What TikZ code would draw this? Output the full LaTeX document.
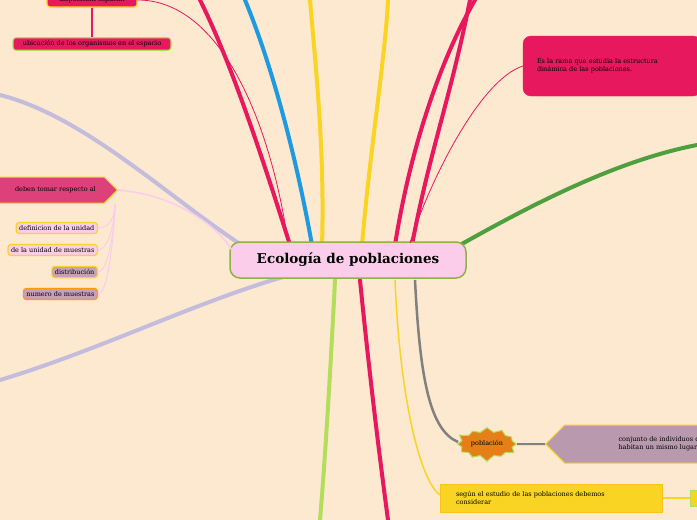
\documentclass[tikz,border=0pt]{standalone}
\usepackage{fontspec}
\setmainfont{DejaVu Serif}
\usetikzlibrary{shapes.geometric,shapes.symbols,shapes.arrows}
\definecolor{bg}{HTML}{FDE8D0}
\definecolor{crim}{HTML}{E8185E}
\definecolor{yel}{HTML}{F9D423}
\definecolor{lav}{HTML}{C3BCDD}
\definecolor{blu}{HTML}{1E9BE0}
\definecolor{grn}{HTML}{4E9F3D}
\definecolor{lgrn}{HTML}{B4DD5C}
\definecolor{pnk}{HTML}{FBCDEB}
\definecolor{mauve}{HTML}{C8A0B8}
\tikzset{
 br/.style={line width=4pt,line cap=round},
 ft/.style={font=\fontsize{6.5}{8}\selectfont},
 lbl/.style={ft,rounded corners=3pt,line width=1.2pt,inner sep=3pt},
}
\begin{document}
\begin{tikzpicture}[x=1pt,y=-1pt]
\useasboundingbox[fill=bg] (0,0) rectangle (697,520);
\coordinate (c) at (348,260);
% branches
\draw[br,lav] (285,270) .. controls (200,230) and (100,120) .. (0,95);
\draw[br,lav] (290,275) .. controls (200,300) and (100,350) .. (0,380);
\draw[br,crim] (290,245) .. controls (260,150) and (230,60) .. (200,0);
\draw[br,blu] (312,245) .. controls (295,150) and (270,60) .. (245,0);
\draw[br,yel] (322,245) .. controls (325,150) and (315,60) .. (310,0);
\draw[br,yel] (362,245) .. controls (370,150) and (385,60) .. (388,0);
\draw[br,crim] (395,245) .. controls (410,150) and (440,60) .. (475,0);
\draw[br,crim] (412,245) .. controls (430,150) and (450,100) .. (470,0);
\draw[br,grn] (460,245) .. controls (540,200) and (620,160) .. (697,145);
\draw[br,lgrn] (335,280) .. controls (330,380) and (325,460) .. (320,520);
\draw[br,crim] (360,280) .. controls (370,380) and (380,460) .. (388,520);
% title
\node[draw=lgrn!80!black,fill=pnk,line width=1.5pt,rounded corners=10pt,minimum width=236pt,minimum height=36pt,font=\bfseries\fontsize{13.5}{16}\selectfont] (t) at (c) {Ecología de poblaciones};
% top-left
\node[lbl,fill=crim,draw=yel,minimum width=90pt,minimum height=14pt] (de) at (92,0) {disposición espacial};
\node[lbl,fill=crim,draw=lgrn,minimum width=158pt] (ub) at (92,44) {ubicación de los organismos en el espacio};
\draw[crim,line width=1.5pt] (de) -- (ub);
\draw[crim,line width=0.8pt] (de.east) .. controls (220,0) and (270,120) .. (288,242);
% right top
\node[fill=crim,draw=crim,rounded corners=8pt,minimum width=178pt,minimum height=60pt,text width=150pt,align=left,ft] (ram) at (612,66) {Es la rama que estudia la estructura\\dinámica de las poblaciones.};
\draw[crim,line width=0.8pt] (ram.west) .. controls (480,80) and (430,180) .. (410,243);
% left group
\node[signal,signal to=east,fill=crim!70!mauve,draw=yel,line width=1pt,minimum height=26pt,minimum width=150pt,anchor=east,ft,align=right,text width=120pt] (db) at (118,190) {deben tomar respecto al\hspace*{38pt}};
\draw[pnk,line width=1.5pt] (db.east) .. controls (180,195) and (220,230) .. (232,250);
\node[lbl,fill=pnk,draw=yel,anchor=east] (d1) at (98,228) {definicion de la unidad};
\node[lbl,fill=pnk,draw=yel,anchor=east] (d2) at (98,250) {de la unidad de muestras};
\node[lbl,fill=mauve,draw=yel,anchor=east] (d3) at (98,272) {distribución};
\node[lbl,fill=mauve,draw=orange!80!yellow,anchor=east] (d4) at (98,294) {numero de muestras};
\coordinate (jn) at (115,204);
\foreach \n in {d1,d2,d3,d4}{\draw[pnk,line width=1pt] (\n.east) .. controls +(12,0) and +(0,12) .. (jn);}
% poblacion
\draw[gray,line width=2.5pt] (415,280) .. controls (420,380) and (430,430) .. (458,442);
\node[starburst,starburst points=12,starburst point height=6pt,fill=orange!60!brown,draw=lgrn,line width=1pt,ft,minimum width=64pt,minimum height=36pt,inner sep=1pt] (po) at (487,444) {población};
\node[single arrow,shape border rotate=180,single arrow head extend=0pt,fill=mauve!80!gray,draw=yel,line width=1pt,minimum height=160pt,minimum width=38pt,anchor=tip,ft,align=left] (cj) at (545,444) {\hspace*{50pt}\mbox{conjunto de individuos de}\\\hspace*{50pt}\mbox{habitan un mismo lugar en}};
\draw[gray,line width=2pt] (po) -- (cj.tip);
% segun
\draw[yel,line width=1.5pt] (395,280) .. controls (400,400) and (420,480) .. (440,495);
\node[fill=yel,draw=yel!80!orange,line width=1pt,minimum width=222pt,minimum height=28pt,text width=190pt,align=left,ft] (se) at (551,498) {según el estudio de las poblaciones debemos\\considerar};
\node[fill=yel,draw=lgrn,line width=1pt,minimum height=16pt,minimum width=12pt,anchor=west] (sx) at (690,498) {};
\draw[yel,line width=1.5pt] (se.east) -- (sx.west);
\end{tikzpicture}
\end{document}
